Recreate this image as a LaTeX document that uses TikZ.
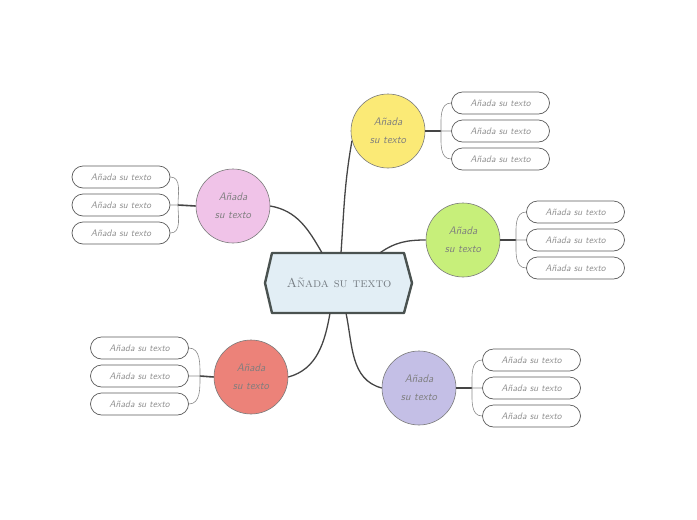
\documentclass[tikz,border=0pt]{standalone}
\definecolor{hubfill}{HTML}{E2EEF5}
\definecolor{hubline}{HTML}{4A5250}
\definecolor{hubtext}{HTML}{767D83}
\definecolor{yeltopic}{HTML}{FBEA76}
\definecolor{pnktopic}{HTML}{F0C3E8}
\definecolor{grntopic}{HTML}{C7EF7A}
\definecolor{redtopic}{HTML}{EC8279}
\definecolor{purtopic}{HTML}{C4BFE6}
\definecolor{topicline}{HTML}{7A7A7A}
\definecolor{topictext}{HTML}{7E7E7E}
\definecolor{leafline}{HTML}{5A5A5A}
\definecolor{leaftext}{HTML}{8C8C8C}
\definecolor{branchline}{HTML}{454545}
\definecolor{braceline}{HTML}{8A8A8A}

\tikzset{
	topic/.style={draw=topicline, circle, minimum size=74pt, inner sep=0pt, line width=0.6pt, align=center, text=topictext, font=\sffamily\itshape\fontsize{11}{18}\selectfont},
	leaf/.style={draw=leafline, rounded corners=11pt, minimum width=98pt, minimum height=22pt, inner sep=0pt, line width=0.7pt, text=leaftext, font=\sffamily\itshape\fontsize{9.5}{10}\selectfont},
	branch/.style={draw=branchline, line width=1.3pt},
	stem/.style={draw=branchline, line width=1.6pt},
	brace/.style={draw=braceline, line width=0.6pt}
}

\begin{document}
\begin{tikzpicture}[x=1pt, y=1pt]
		\useasboundingbox (0,0) rectangle (697,-520);

		\draw[hubline, fill=hubfill, line width=2.4pt, line join=round] (265,-283) -- (272,-253) -- (404,-253) -- (412,-283) -- (404,-313) -- (272,-313) -- cycle;
		\node (hub)[minimum width=147pt, minimum height=60pt, inner sep=0pt, text=hubtext, font=\fontsize{13}{14}\selectfont\scshape] at (339,-283) {Añada su texto};

		\node (yel)[topic, fill=yeltopic] at (388,-131) {Añada\\su texto};
		\node (pnk)[topic, fill=pnktopic] at (233,-206) {Añada\\su texto};
		\node (grn)[topic, fill=grntopic] at (463,-240) {Añada\\su texto};
		\node (red)[topic, fill=redtopic] at (251,-377) {Añada\\su texto};
		\node (pur)[topic, fill=purtopic] at (419,-388) {Añada\\su texto};

		\node (y1)[leaf] at (500.5,-103) {Añada su texto};
		\node (y2)[leaf] at (500.5,-131) {Añada su texto};
		\node (y3)[leaf] at (500.5,-159) {Añada su texto};

		\node (p1)[leaf] at (121,-177) {Añada su texto};
		\node (p2)[leaf] at (121,-205) {Añada su texto};
		\node (p3)[leaf] at (121,-233) {Añada su texto};

		\node (g1)[leaf] at (575.5,-212) {Añada su texto};
		\node (g2)[leaf] at (575.5,-240) {Añada su texto};
		\node (g3)[leaf] at (575.5,-268) {Añada su texto};

		\node (r1)[leaf] at (139.5,-348) {Añada su texto};
		\node (r2)[leaf] at (139.5,-376) {Añada su texto};
		\node (r3)[leaf] at (139.5,-404) {Añada su texto};

		\node (u1)[leaf] at (531.5,-360) {Añada su texto};
		\node (u2)[leaf] at (531.5,-388) {Añada su texto};
		\node (u3)[leaf] at (531.5,-416) {Añada su texto};

		\coordinate (yj) at (441,-131);
		\coordinate (pj) at (178,-205);
		\coordinate (gj) at (516,-240);
		\coordinate (rj) at (200,-376);
		\coordinate (uj) at (472,-388);

		\draw[branch] ([xshift=2pt]hub.north) to[out=86, in=-100] (yel.195);
		\draw[branch] ([xshift=-17pt]hub.north) to[out=120, in=-10] (pnk.east);
		\draw[branch] ([xshift=41pt]hub.north) to[out=35, in=180] (grn.west);
		\draw[branch] ([xshift=-9pt]hub.south) to[out=-100, in=15] (red.east);
		\draw[branch] ([xshift=7pt]hub.south) to[out=-78, in=165] (pur.west);

		\draw[stem] (yel.east) -- (yj);
		\draw[stem] (pnk.west) -- (pj);
		\draw[stem] (grn.east) -- (gj);
		\draw[stem] (red.west) -- (rj);
		\draw[stem] (pur.east) -- (uj);

		\draw[brace] (y1.west) to[out=180, in=90] (yj) to[out=-90, in=180] (y3.west) (yj) -- (y2.west);
		\draw[brace] (p1.east) to[out=0, in=90] (pj) to[out=-90, in=0] (p3.east) (pj) -- (p2.east);
		\draw[brace] (g1.west) to[out=180, in=90] (gj) to[out=-90, in=180] (g3.west) (gj) -- (g2.west);
		\draw[brace] (r1.east) to[out=0, in=90] (rj) to[out=-90, in=0] (r3.east) (rj) -- (r2.east);
		\draw[brace] (u1.west) to[out=180, in=90] (uj) to[out=-90, in=180] (u3.west) (uj) -- (u2.west);
	\end{tikzpicture}
\end{document}
